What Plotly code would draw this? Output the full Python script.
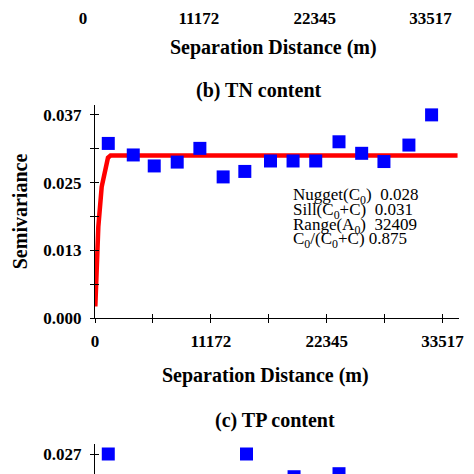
import plotly.graph_objects as go

W = H = 474

# ---------------- data ----------------
# panel (b) TN content: experimental semivariogram
lag_b = [1281, 3689, 5711, 7927, 10113, 12357, 14447, 16921, 19098, 21285,
         23529, 25715, 27862, 30270, 32457]
semi_b = [0.0318, 0.0297, 0.0277, 0.0284, 0.0309, 0.0257, 0.0267, 0.0286,
          0.0286, 0.0286, 0.0321, 0.0300, 0.0285, 0.0315, 0.0370]
# fitted model curve
model_x = [30, 160, 320, 645, 1010, 1250, 1500, 34960]
model_y = [0.0021, 0.0088, 0.0166, 0.0239, 0.0266, 0.0292, 0.0296, 0.0296]

# panel (c) TP content (only top visible)
lag_c = [1281, 14610, 19195, 23529]
semi_c = [0.0270, 0.0270, 0.0240, 0.0244]

x_tickvals = [0, 5586, 11172, 16759, 22345, 27931, 33517]
x_ticktext = ["0", "", "11172", "", "22345", "", "33517"]
top_tickvals = [0, 11172, 22345, 33517]
top_ticktext = ["0", "11172", "22345", "33517"]
y_tickvals = [0, 0.0061667, 0.0123333, 0.0185, 0.0246667, 0.0308333, 0.037]
y_ticktext = ["0.000", "", "0.013", "", "0.025", "", "0.037"]
yc_tickvals = [0.027]
yc_ticktext = ["0.027"]

stats_lines = ["Nugget(C<sub>0</sub>)&nbsp; 0.028",
               "Sill(C<sub>0</sub>+C)&nbsp; 0.031",
               "Range(A<sub>0</sub>)&nbsp; 32409",
               "C<sub>0</sub>/(C<sub>0</sub>+C)&nbsp;0.875"]

panel_b_title = "(b) TN content"
panel_c_title = "(c) TP content"
x_title = "Separation Distance (m)"
y_title = "Semivariance"

# ---------------- layout helpers ----------------
def px_x(p):
    return p / W

def px_y(p):
    return 1 - p / H

SERIF = "Liberation Serif, Times New Roman, serif"
BOLD = dict(family=SERIF, size=17, color="black", weight="bold")

xdom = [px_x(95), px_x(459)]
xdom_top = [px_x(83), px_x(447)]
ydom_b = [px_y(318), px_y(105)]
ydom_c = [0, px_y(444)]
XR = [0, 35100]

fig = go.Figure()

fig.add_trace(go.Scatter(x=model_x, y=model_y, mode="lines",
                         line=dict(color="#ff0000", width=4.5),
                         xaxis="x", yaxis="y", hoverinfo="skip"))
fig.add_trace(go.Scatter(x=lag_b, y=semi_b, mode="markers",
                         marker=dict(symbol="square", size=13, color="#0000ff"),
                         xaxis="x", yaxis="y"))
fig.add_trace(go.Scatter(x=lag_c, y=semi_c, mode="markers",
                         marker=dict(symbol="square", size=13, color="#0000ff"),
                         xaxis="x2", yaxis="y2"))
# invisible helper traces for overlay axes (crossing ticks, top labels)
for xa, ya in [("x3", "y"), ("x", "y3"), ("x2", "y4"), ("x4", "y5")]:
    fig.add_trace(go.Scatter(x=[0], y=[0], mode="markers",
                             marker=dict(opacity=0), xaxis=xa, yaxis=ya,
                             hoverinfo="skip"))

common_x = dict(range=XR, tickmode="array", tickvals=x_tickvals,
                showgrid=False, zeroline=False, ticklen=4, tickwidth=1,
                tickcolor="black", automargin=False)

fig.update_layout(
    template="none",
    width=W, height=H, margin=dict(l=0, r=0, t=0, b=0, pad=0),
    paper_bgcolor="white", plot_bgcolor="rgba(0,0,0,0)",
    showlegend=False,
    xaxis=dict(domain=xdom, anchor="y", ticks="outside", ticktext=x_ticktext,
               showline=True, linecolor="black", linewidth=1,
               tickfont=BOLD, ticklabelstandoff=4, **common_x),
    xaxis3=dict(overlaying="x", anchor="y", ticks="inside",
                showticklabels=False, showline=False, matches="x", **common_x),
    yaxis=dict(domain=ydom_b, anchor="x", range=[0, 0.0388], tickmode="array",
               tickvals=y_tickvals, ticktext=y_ticktext, ticks="outside",
               ticklen=4, tickcolor="black", showline=True, linecolor="black",
               linewidth=1, showgrid=False, zeroline=False, tickfont=BOLD,
               ticklabelstandoff=5, automargin=False,
               title=dict(text=y_title, font=dict(family=SERIF, size=20,
                                                  color="black", weight="bold"),
                          standoff=10)),
    yaxis3=dict(overlaying="y", anchor="x", matches="y", range=[0, 0.0388],
                tickmode="array", tickvals=y_tickvals, ticks="inside",
                ticklen=4, tickcolor="black", showticklabels=False,
                showgrid=False, zeroline=False, showline=False,
                automargin=False),
    xaxis2=dict(domain=xdom, anchor="y2", range=XR, visible=False,
                automargin=False),
    yaxis2=dict(domain=ydom_c, anchor="x2", range=[0.02436, 0.02832],
                tickmode="array", tickvals=yc_tickvals, ticktext=yc_ticktext,
                ticks="outside", ticklen=4, tickcolor="black", showline=True,
                linecolor="black", linewidth=1, showgrid=False,
                zeroline=False, tickfont=BOLD, ticklabelstandoff=5,
                automargin=False),
    yaxis4=dict(overlaying="y2", anchor="x2", matches="y2",
                range=[0.02436, 0.02832], tickmode="array",
                tickvals=yc_tickvals, ticks="inside", ticklen=4,
                tickcolor="black", showticklabels=False, showgrid=False,
                zeroline=False, showline=False, automargin=False),
    # top (cut-off) panel (a): only its x tick labels are visible
    xaxis4=dict(domain=xdom_top, anchor="y5", range=XR, tickmode="array",
                tickvals=top_tickvals, ticktext=top_ticktext,
                ticks="", showline=False, showgrid=False, zeroline=False,
                tickfont=BOLD, automargin=False),
    yaxis5=dict(domain=[px_y(6), 1], anchor="x4", visible=False,
                range=[0, 1], automargin=False),
)

ann = []
TITLE_FONT = dict(family=SERIF, size=20, color="black", weight="bold")
for txt, cx, cy in [(x_title, 273, 47), (panel_b_title, 259, 90),
                    (x_title, 265, 375), (panel_c_title, 275, 420)]:
    ann.append(dict(text=txt, x=px_x(cx), y=px_y(cy), xref="paper",
                    yref="paper", xanchor="center", yanchor="middle",
                    showarrow=False, font=TITLE_FONT))
for i, line in enumerate(stats_lines):
    ann.append(dict(text=line, x=px_x(291), y=px_y(196 + 14.8 * i),
                    xref="paper", yref="paper", xanchor="left",
                    yanchor="middle", showarrow=False,
                    font=dict(family=SERIF, size=17, color="black")))
fig.update_layout(annotations=ann)

fig.write_html("out.html",
               config={"displayModeBar": False, "staticPlot": True},
               post_script="document.body.style.margin='0';"
                           "document.body.style.overflow='hidden';")
